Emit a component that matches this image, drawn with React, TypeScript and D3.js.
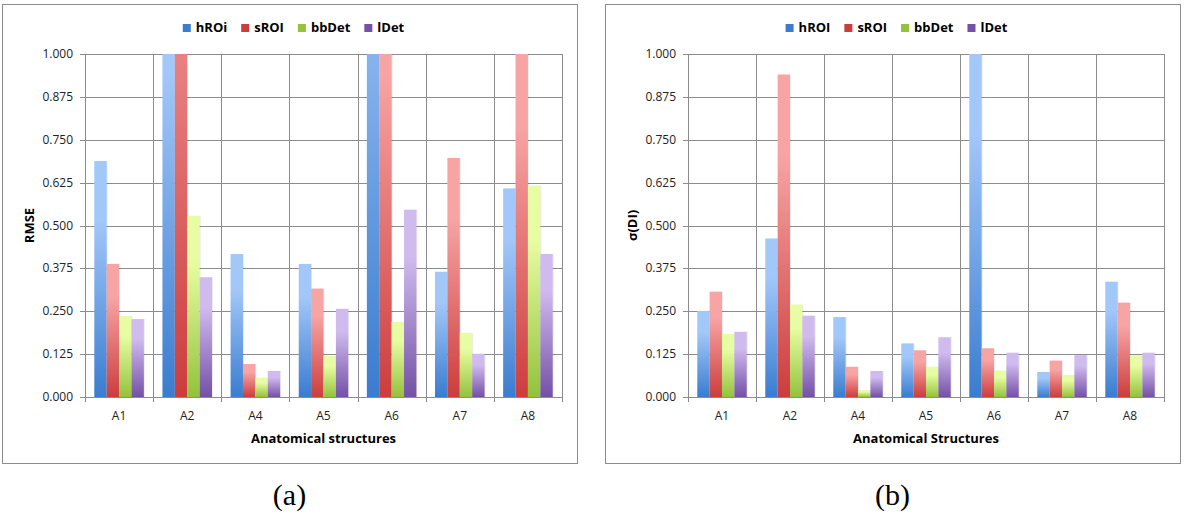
import { useEffect, useRef } from "react"
import * as d3 from "d3"

const categories = ["A1", "A2", "A4", "A5", "A6", "A7", "A8"]
const seriesKeys = ["hROI", "sROI", "bbDet", "lDet"]
const legendA = ["hROi", "sROI", "bbDet", "lDet"]
const legendB = ["hROI", "sROI", "bbDet", "lDet"]

// panel (a) RMSE; values above 1 are cut by the axis (estimated from the gradient)
const rmseHROI = [0.688, 1.25, 0.417, 0.388, 1.8, 0.365, 0.608]
const rmseSROI = [0.388, 2.0, 0.096, 0.316, 1.25, 0.697, 1.05]
const rmseBbDet = [0.236, 0.528, 0.056, 0.12, 0.219, 0.187, 0.616]
const rmseLDet = [0.227, 0.349, 0.076, 0.257, 0.546, 0.126, 0.417]

// panel (b) sigma(DI)
const sdHROI = [0.251, 0.462, 0.233, 0.156, 1.02, 0.073, 0.336]
const sdSROI = [0.307, 0.94, 0.088, 0.136, 0.142, 0.106, 0.275]
const sdBbDet = [0.184, 0.269, 0.02, 0.088, 0.077, 0.064, 0.121]
const sdLDet = [0.19, 0.237, 0.076, 0.174, 0.129, 0.122, 0.129]

const yTicks = [0, 0.125, 0.25, 0.375, 0.5, 0.625, 0.75, 0.875, 1]

const colors: Record<string, [string, string]> = {
  hROI: ["#a2c7f9", "#3a7ccf"],
  sROI: ["#f7a4a4", "#cc3d3d"],
  bbDet: ["#e8fda3", "#94c23c"],
  lDet: ["#d0bbef", "#7451a5"],
}

const FONT = "'Open Sans', sans-serif"

interface PanelCfg {
  id: string
  box: [number, number, number, number]
  plot: [number, number, number, number]
  legend: string[]
  yTitle: string
  xTitle: string
  caption: string
  values: number[][]
}

function drawPanel(svg: d3.Selection<SVGSVGElement, unknown, null, undefined>, cfg: PanelCfg) {
  const [bx, by, bw, bh] = cfg.box
  const [left, top, right, bottom] = cfg.plot
  const defs = svg.append("defs")
  const g = svg.append("g")

  g.append("rect")
    .attr("x", bx + 0.5)
    .attr("y", by + 0.5)
    .attr("width", bw)
    .attr("height", bh)
    .attr("fill", "white")
    .attr("stroke", "#8c8c8c")

  const x0 = d3.scaleBand().domain(categories).range([left, right])
  const x1 = d3
    .scaleBand()
    .domain(seriesKeys)
    .range([0, x0.bandwidth()])
    .paddingInner(0)
    .paddingOuter(0.75 / 1)
  const y = d3.scaleLinear().domain([0, 1]).range([bottom, top])

  // horizontal grid + y ticks
  g.selectAll(".hgrid")
    .data(yTicks)
    .enter()
    .append("line")
    .attr("x1", left - 5)
    .attr("x2", right)
    .attr("y1", (d) => Math.round(y(d)) + 0.5)
    .attr("y2", (d) => Math.round(y(d)) + 0.5)
    .attr("stroke", "#8c8c8c")

  // vertical grid at category boundaries
  const bounds = categories.map((c) => x0(c)!).concat([right])
  g.selectAll(".vgrid")
    .data(bounds)
    .enter()
    .append("line")
    .attr("x1", (d) => Math.round(d) + 0.5)
    .attr("x2", (d) => Math.round(d) + 0.5)
    .attr("y1", top)
    .attr("y2", bottom + 5)
    .attr("stroke", "#8c8c8c")

  g.selectAll(".ylab")
    .data(yTicks)
    .enter()
    .append("text")
    .attr("x", left - 12)
    .attr("y", (d) => y(d) + 4)
    .attr("text-anchor", "end")
    .attr("font-family", FONT)
    .attr("font-size", 12)
    .attr("fill", "#222")
    .text((d) => d3.format(".3f")(d))

  // bars
  categories.forEach((cat, ci) => {
    seriesKeys.forEach((key, si) => {
      const v = cfg.values[si][ci]
      const gid = `${cfg.id}-${ci}-${si}`
      const grad = defs
        .append("linearGradient")
        .attr("id", gid)
        .attr("gradientUnits", "userSpaceOnUse")
        .attr("x1", 0)
        .attr("x2", 0)
        .attr("y1", y(v))
        .attr("y2", y(0))
      grad.append("stop").attr("offset", "0%").attr("stop-color", colors[key][0])
      grad.append("stop").attr("offset", "25%").attr("stop-color", colors[key][0])
      grad.append("stop").attr("offset", "100%").attr("stop-color", colors[key][1])
      const bx0 = x0(cat)! + x1(key)!
      const yt = y(Math.min(v, 1))
      g.append("rect")
        .attr("x", bx0 + 1)
        .attr("y", yt)
        .attr("width", x1.bandwidth())
        .attr("height", y(0) - yt)
        .attr("fill", "rgba(0,0,0,0.08)")
      g.append("rect")
        .attr("x", bx0)
        .attr("y", yt)
        .attr("width", x1.bandwidth())
        .attr("height", y(0) - yt)
        .attr("fill", `url(#${gid})`)
    })
  })

  // category labels
  g.selectAll(".xlab")
    .data(categories)
    .enter()
    .append("text")
    .attr("x", (d) => x0(d)! + x0.bandwidth() / 2)
    .attr("y", bottom + 23)
    .attr("text-anchor", "middle")
    .attr("font-family", FONT)
    .attr("font-size", 12)
    .attr("fill", "#222")
    .text((d) => d)

  g.append("text")
    .attr("x", (left + right) / 2)
    .attr("y", bottom + 46)
    .attr("text-anchor", "middle")
    .attr("font-family", FONT)
    .attr("font-size", 13)
    .attr("font-weight", "bold")
    .attr("fill", "#000")
    .text(cfg.xTitle)

  g.append("text")
    .attr("transform", `translate(${bx + 32},${(top + bottom) / 2}) rotate(-90)`)
    .attr("text-anchor", "middle")
    .attr("font-family", FONT)
    .attr("font-size", 13)
    .attr("font-weight", "bold")
    .attr("fill", "#000")
    .text(cfg.yTitle)

  // legend
  const leg = g.append("g")
  let cx = 0
  cfg.legend.forEach((name, i) => {
    const item = leg.append("g").attr("transform", `translate(${cx},0)`)
    item
      .append("rect")
      .attr("x", 0)
      .attr("y", -8)
      .attr("width", 8)
      .attr("height", 8)
      .attr("fill", colors[seriesKeys[i]][1])
    const t = item
      .append("text")
      .attr("x", 13)
      .attr("y", 0)
      .attr("font-family", FONT)
      .attr("font-size", 13)
      .attr("font-weight", "bold")
      .attr("fill", "#000")
      .text(name)
    const w = (t.node() as SVGTextElement).getComputedTextLength()
    cx += 13 + w + 14
  })
  const legW = cx - 14
  leg.attr("transform", `translate(${bx + bw / 2 + 4 - legW / 2},32)`)

  svg
    .append("text")
    .attr("x", bx + bw / 2)
    .attr("y", 505)
    .attr("text-anchor", "middle")
    .attr("font-family", "'Liberation Serif', serif")
    .attr("font-size", 30)
    .attr("fill", "#000")
    .text(cfg.caption)
}

export default function App() {
  const svgRef = useRef<SVGSVGElement>(null)

  useEffect(() => {
    const svg = d3.select(svgRef.current!)
    svg.selectAll("*").remove()

    drawPanel(svg, {
      id: "a",
      box: [2, 4, 575, 459],
      plot: [85, 54, 562, 397],
      legend: legendA,
      yTitle: "RMSE",
      xTitle: "Anatomical structures",
      caption: "(a)",
      values: [rmseHROI, rmseSROI, rmseBbDet, rmseLDet],
    })
    drawPanel(svg, {
      id: "b",
      box: [605, 4, 575, 459],
      plot: [688, 54, 1164, 397],
      legend: legendB,
      yTitle: "σ(DI)",
      xTitle: "Anatomical Structures",
      caption: "(b)",
      values: [sdHROI, sdSROI, sdBbDet, sdLDet],
    })
  }, [])

  return (
    <div style={{ position: "fixed", left: 0, top: 0 }}>
      <svg ref={svgRef} width={1186} height={514} style={{ display: "block", background: "white" }} />
    </div>
  )
}
